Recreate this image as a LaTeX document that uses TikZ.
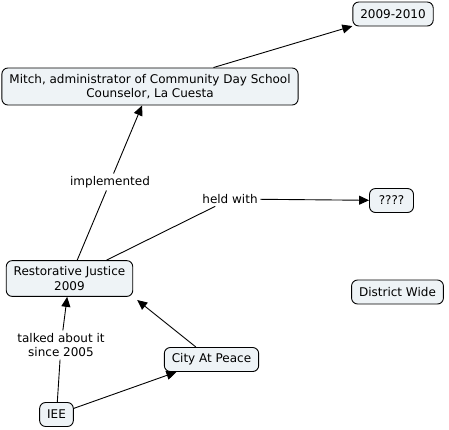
\documentclass[tikz,border=0pt]{standalone}
\usepackage{fontspec}
\setmainfont{DejaVu Sans}
\usepackage{xcolor}
\usepackage{tikz}
\usetikzlibrary{arrows.meta,positioning}
\definecolor{cpfill}{RGB}{238,243,246}
\definecolor{cpline}{RGB}{0,0,0}
\tikzset{
  concept/.style={rectangle,rounded corners=6pt,draw=cpline,line width=0.9pt,fill=cpfill,
              inner xsep=7.5pt,inner ysep=6pt,minimum height=24pt,align=center,
              font=\fontsize{12}{14.5}\selectfont},
  linkword/.style={inner sep=2.5pt,align=center,font=\fontsize{12}{14.5}\selectfont},
  conn/.style={line width=0.9pt,draw=black},
  flow/.style={-{Triangle[length=10pt,width=9pt]},line width=0.9pt,draw=black},
}

\begin{document}
\begin{tikzpicture}[x=1pt,y=-1pt]
  \useasboundingbox (0,0) rectangle (449,429);
  \node[concept] (yrs) at (393,14) {2009-2010};
  \node[concept] (mitch) at (150,86.5) {Mitch, administrator of Community Day School\\Counselor, La Cuesta};
  \node[concept,minimum width=44pt] (unk) at (391.5,200.5) {????};
  \node[concept] (rj) at (69.5,278.5) {Restorative Justice\\2009};
  \node[concept] (dw) at (397.5,292) {District Wide};
  \node[concept] (cap) at (211.5,359.5) {City At Peace};
  \node[concept] (iee) at (56.5,414.5) {IEE};

  \node[linkword] (impl) at (110,182) {implemented};
  \node[linkword] (held) at (230,199) {held with};
  \node[linkword] (talk) at (61,345) {talked about it\\since 2005};

  \draw[flow] (mitch) -- (yrs);
  \draw[conn] (rj) -- (impl);
  \draw[flow] (impl) -- (mitch);
  \draw[conn] (rj) -- (held);
  \draw[flow] (held) -- (unk);
  \draw[conn] (iee) -- (talk);
  \draw[flow] (talk) -- (rj);
  \draw[flow,shorten >=5pt] (cap) -- (rj.south east);
  \draw[flow] (iee) -- (cap);
\end{tikzpicture}
\end{document}
